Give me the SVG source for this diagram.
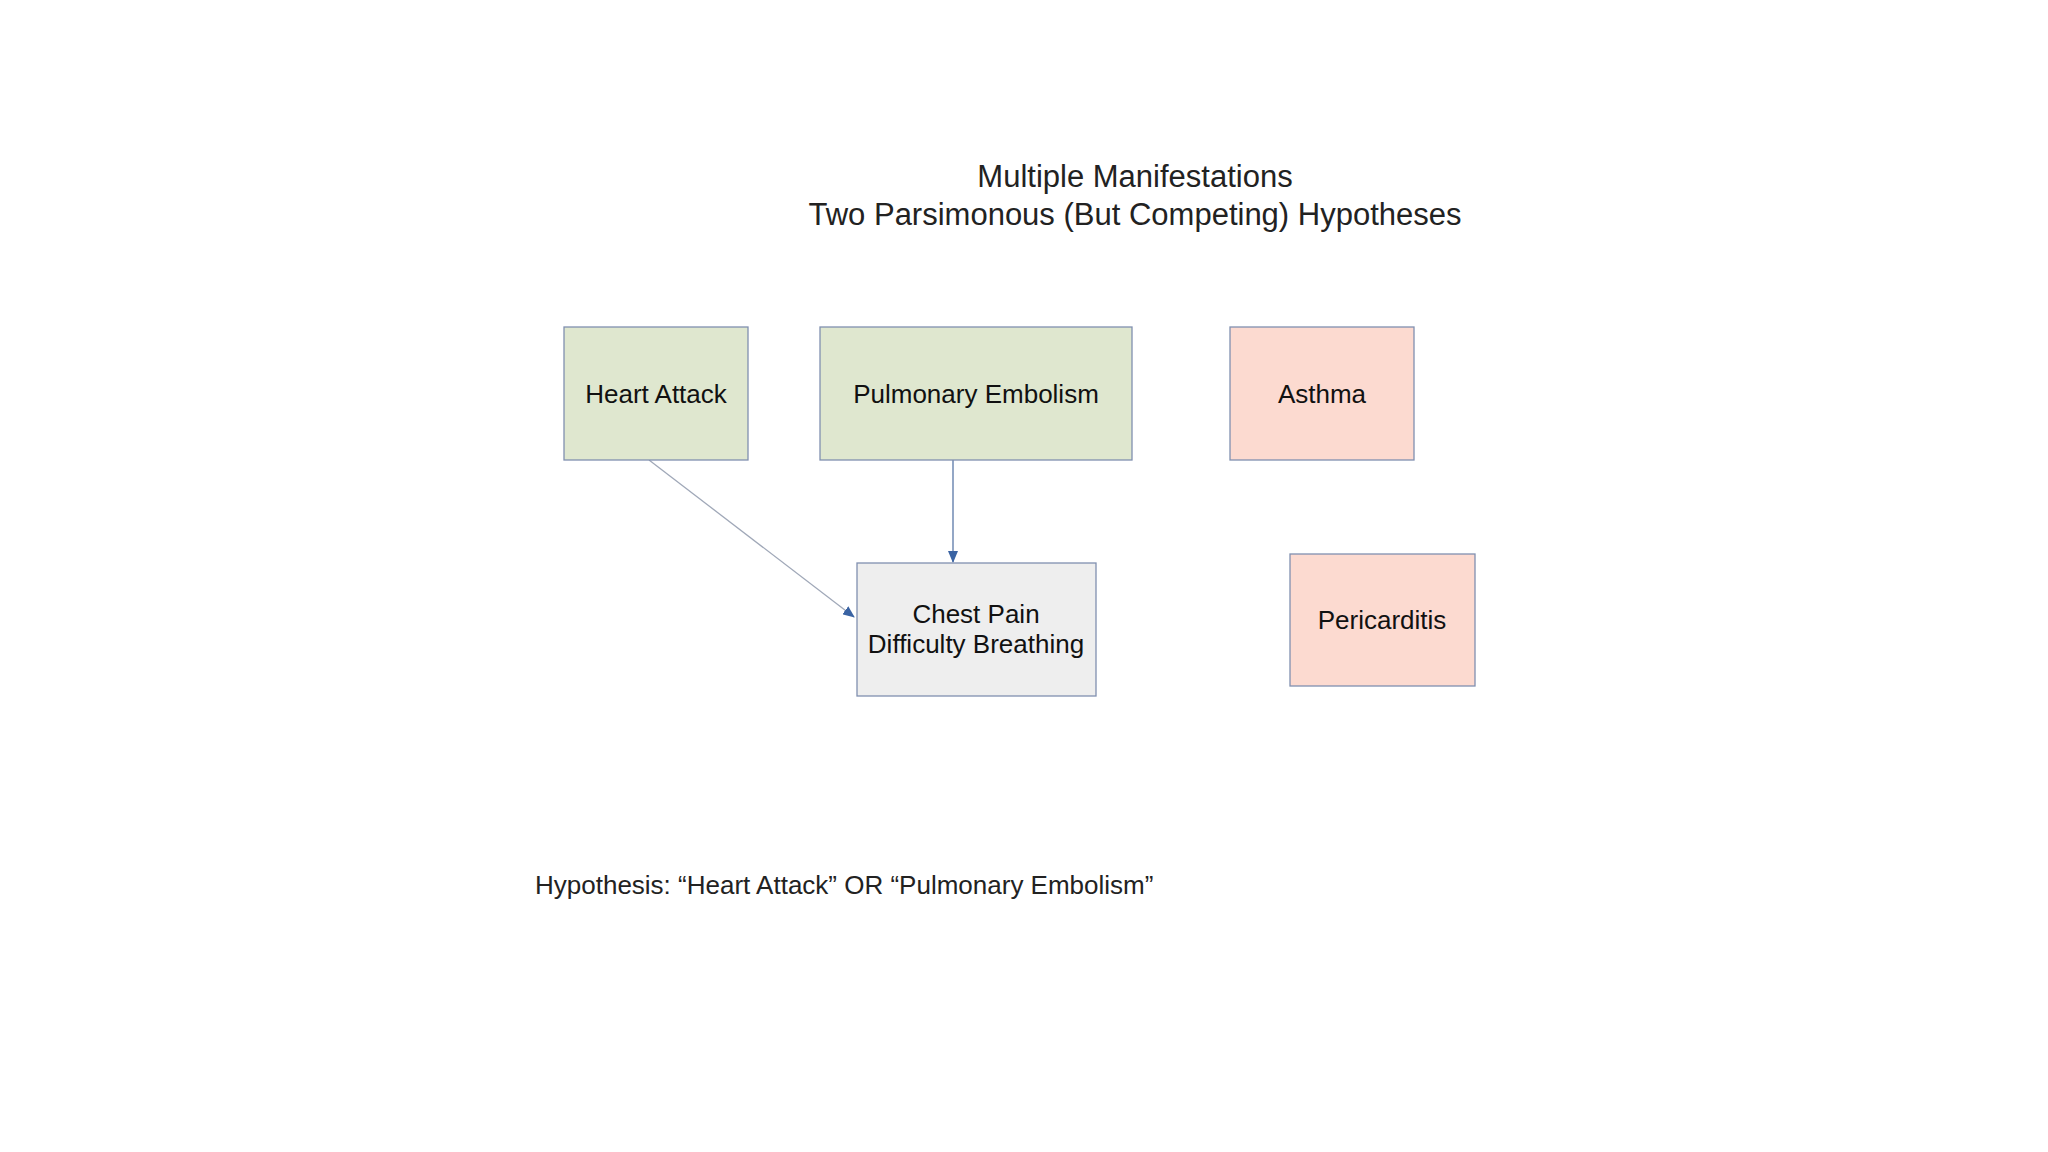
<svg xmlns="http://www.w3.org/2000/svg" width="2048" height="1152" viewBox="0 0 2048 1152">
<style>
text{font-family:"Liberation Sans",Arial,sans-serif;fill:#222;}
.n{font-size:26px;text-anchor:middle;fill:#111;}
.box{stroke:#8090b0;stroke-width:1.3;}
.g{fill:#dfe7cf}.p{fill:#fcdad0}.c{fill:#eeeeee}
</style>
<defs><marker id="a" markerWidth="12" markerHeight="10" refX="11" refY="5" orient="auto" markerUnits="userSpaceOnUse"><path d="M0,0L12,5L0,10z" fill="#3a63a3"/></marker></defs>
<rect width="2048" height="1152" fill="#fff"/>
<text x="1135" y="187" font-size="31" text-anchor="middle">Multiple Manifestations</text>
<text x="1135" y="225" font-size="31" text-anchor="middle">Two Parsimonous (But Competing) Hypotheses</text>
<g id="connectors">
<line x1="649" y1="460" x2="854" y2="617" stroke="#a0a8b8" stroke-width="1.3" marker-end="url(#a)"/>
<line x1="953" y1="460" x2="953" y2="562" stroke="#5a78a8" stroke-width="1.3" marker-end="url(#a)"/>
</g>
<g id="heart"><rect class="box g" x="564" y="327" width="184" height="133"/><text class="n" x="656" y="403">Heart Attack</text></g>
<g id="pe"><rect class="box g" x="820" y="327" width="312" height="133"/><text class="n" x="976" y="403">Pulmonary Embolism</text></g>
<g id="asthma"><rect class="box p" x="1230" y="327" width="184" height="133"/><text class="n" x="1322" y="403">Asthma</text></g>
<g id="symptoms"><rect class="box c" x="857" y="563" width="239" height="133"/><text class="n" x="976" y="623">Chest Pain</text><text class="n" x="976" y="653">Difficulty Breathing</text></g>
<g id="peri"><rect class="box p" x="1290" y="554" width="185" height="132"/><text class="n" x="1382" y="629">Pericarditis</text></g>
<text x="535" y="894" font-size="26">Hypothesis: “Heart Attack” OR “Pulmonary Embolism”</text>
</svg>
